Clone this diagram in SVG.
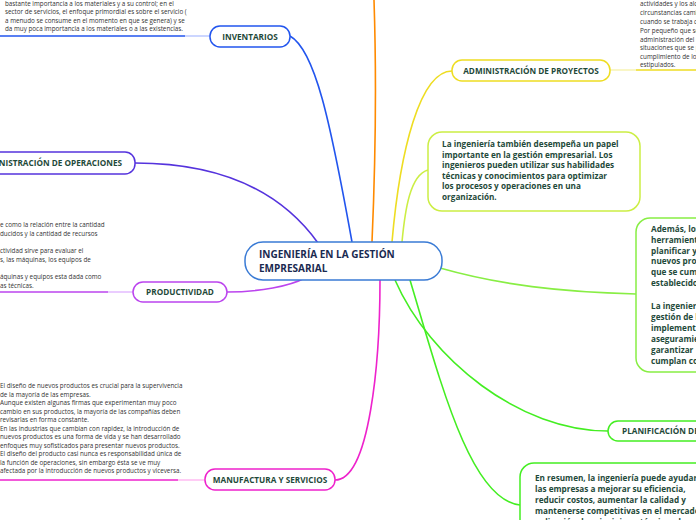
<svg xmlns="http://www.w3.org/2000/svg" width="696" height="520" viewBox="0 0 696 520">
<style>
text{font-family:"Open Sans","Noto Sans",sans-serif;}
.t{font-size:6.3px;fill:#333;}
.b{font-size:8.2px;font-weight:bold;fill:#1f4a3a;}
.h{font-size:8.2px;font-weight:bold;fill:#1f4a3a;text-anchor:middle;}
.c{fill:none;stroke-width:1.6;}
rect{fill:#fff;stroke-width:1.5;}
</style>
<rect width="696" height="520" fill="#fff" style="stroke:none"/>
<g id="connectors">
<path class="c" stroke="#ff8a00" d="M372 242 C376 150 376 60 374 0"/>
<path class="c" stroke="#2255ee" d="M290 36 C315 50 330 120 352 242"/>
<path class="c" stroke="#5533dd" d="M135 163 C220 163 280 190 318 243"/>
<path class="c" stroke="#bb44ee" d="M227 292 C260 292 290 286 305 278"/>
<path class="c" stroke="#ee22cc" d="M335 480 C370 480 380 360 380 280"/>
<path class="c" stroke="#eedd22" d="M452 71 C420 71 400 150 392 242"/>
<path class="c" stroke="#ccee44" d="M428 170 C410 175 405 210 402 242"/>
<path class="c" stroke="#88ee44" d="M440 268 C500 285 560 292 636 294"/>
<path class="c" stroke="#44ee22" d="M395 280 C430 360 520 431 608 431"/>
<path class="c" stroke="#44ee22" d="M410 280 C440 380 470 500 520 505"/>
<line x1="0" y1="36" x2="185" y2="36" stroke="#2255ee" stroke-width="1.6"/>
<line x1="185" y1="36" x2="210" y2="36" stroke="#aabbff" stroke-width="1.2"/>
<line x1="0" y1="292" x2="108" y2="292" stroke="#bb44ee" stroke-width="1.6"/>
<line x1="108" y1="292" x2="133" y2="292" stroke="#ddaaff" stroke-width="1.2"/>
<line x1="0" y1="480" x2="178" y2="480" stroke="#ee22cc" stroke-width="1.6"/>
<line x1="178" y1="480" x2="205" y2="480" stroke="#ffaaee" stroke-width="1.2"/>
<line x1="610" y1="70" x2="636" y2="70" stroke="#f5f0a0" stroke-width="1.2"/>
<line x1="636" y1="70" x2="696" y2="70" stroke="#eedd22" stroke-width="1.6"/>
</g>
<g id="center">
<rect x="245" y="242" width="197" height="38" rx="18" stroke="#3a7bd5"/>
<text x="259" y="258" style="font-size:10px;font-weight:bold;fill:#1a2a50">INGENIERÍA EN LA GESTIÓN</text>
<text x="259" y="272" style="font-size:10px;font-weight:bold;fill:#1a2a50">EMPRESARIAL</text>
</g>
<g id="inventarios">
<rect x="210" y="26" width="80" height="21" rx="10" stroke="#2255ee"/>
<text class="h" x="250" y="40">INVENTARIOS</text>
<text class="t" x="5" y="6">bastante importancia a los materiales y a su control; en el</text>
<text class="t" x="5" y="14">sector de servicios, el enfoque primordial es sobre el servicio (</text>
<text class="t" x="5" y="23">a menudo se consume en el momento en que se genera) y se</text>
<text class="t" x="5" y="31">da muy poca importancia a los materiales o a las existencias.</text>
</g>
<g id="operaciones">
<rect x="-20" y="152" width="155" height="22" rx="10" stroke="#5533dd"/>
<text class="b" x="122" y="166" text-anchor="end">ADMINISTRACIÓN DE OPERACIONES</text>
</g>
<g id="productividad">
<rect x="133" y="282" width="94" height="20" rx="10" stroke="#bb44ee"/>
<text class="h" x="180" y="295">PRODUCTIVIDAD</text>
<text class="t" x="0" y="227">e como la relación entre la cantidad</text>
<text class="t" x="0" y="236">ducidos y la cantidad de recursos</text>
<text class="t" x="0" y="253">ctividad sirve para evaluar el</text>
<text class="t" x="0" y="262">s, las máquinas, los equipos de</text>
<text class="t" x="0" y="279">áquinas y equipos esta dada como</text>
<text class="t" x="0" y="288">as técnicas.</text>
</g>
<g id="manufactura">
<rect x="205" y="469" width="130" height="21" rx="10" stroke="#ee22cc"/>
<text class="h" x="270" y="483">MANUFACTURA Y SERVICIOS</text>
<text class="t" x="0" y="388">El diseño de nuevos productos es crucial para la supervivencia</text>
<text class="t" x="0" y="397">de la mayoría de las empresas.</text>
<text class="t" x="0" y="405">Aunque existen algunas firmas que experimentan muy poco</text>
<text class="t" x="0" y="414">cambio en sus productos, la mayoría de las compañías deben</text>
<text class="t" x="0" y="422">revisarlas en forma constante.</text>
<text class="t" x="0" y="431">En las industrias que cambian con rapidez, la introducción de</text>
<text class="t" x="0" y="439">nuevos productos es una forma de vida y se han desarrollado</text>
<text class="t" x="0" y="448">enfoques muy sofisticados para presentar nuevos productos.</text>
<text class="t" x="0" y="456">El diseño del producto casi nunca es responsabilidad única de</text>
<text class="t" x="0" y="465">la función de operaciones, sin embargo ésta se ve muy</text>
<text class="t" x="0" y="473">afectada por la introducción de nuevos productos y viceversa.</text>
</g>
<g id="proyectos">
<rect x="452" y="60" width="158" height="21" rx="10" stroke="#eedd22"/>
<text class="h" x="531" y="74">ADMINISTRACIÓN DE PROYECTOS</text>
<text class="t" x="640" y="6">actividades y los alca</text>
<text class="t" x="640" y="15">circunstancias camb</text>
<text class="t" x="640" y="24">cuando se trabaja c</text>
<text class="t" x="640" y="33">Por pequeño que se</text>
<text class="t" x="640" y="42">administración del m</text>
<text class="t" x="640" y="50">situaciones que se p</text>
<text class="t" x="640" y="59">cumplimiento de los</text>
<text class="t" x="640" y="67">estipulados.</text>
</g>
<g id="papel">
<rect x="428" y="132" width="212" height="79" rx="14" stroke="#ccee44"/>
<text class="b" x="442" y="147">La ingeniería también desempeña un papel</text>
<text class="b" x="442" y="158">importante en la gestión empresarial. Los</text>
<text class="b" x="442" y="168">ingenieros pueden utilizar sus habilidades</text>
<text class="b" x="442" y="179">técnicas y conocimientos para optimizar</text>
<text class="b" x="442" y="189">los procesos y operaciones en una</text>
<text class="b" x="442" y="200">organización.</text>
</g>
<g id="ademas">
<rect x="636" y="218" width="100" height="154" rx="14" stroke="#88ee44"/>
<text class="b" x="651" y="232">Además, los</text>
<text class="b" x="651" y="243">herramient</text>
<text class="b" x="651" y="254">planificar y</text>
<text class="b" x="651" y="264">nuevos pro</text>
<text class="b" x="651" y="275">que se cum</text>
<text class="b" x="651" y="286">establecido</text>
<text class="b" x="651" y="309">La ingenier</text>
<text class="b" x="651" y="320">gestión de l</text>
<text class="b" x="651" y="331">implement.</text>
<text class="b" x="651" y="342">aseguramie</text>
<text class="b" x="651" y="353">garantizar</text>
<text class="b" x="651" y="364">cumplan co</text>
</g>
<g id="planificacion">
<rect x="608" y="421" width="110" height="20" rx="10" stroke="#44ee22"/>
<text class="b" x="622" y="434">PLANIFICACIÓN DE</text>
</g>
<g id="resumen">
<rect x="520" y="463" width="200" height="80" rx="14" stroke="#44ee22"/>
<text class="b" x="535" y="481">En resumen, la ingeniería puede ayudar a</text>
<text class="b" x="535" y="492">las empresas a mejorar su eficiencia,</text>
<text class="b" x="535" y="503">reducir costos, aumentar la calidad y</text>
<text class="b" x="535" y="514">mantenerse competitivas en el mercado</text>
<text class="b" x="535" y="525">aplicación de principios y técnicas de</text>
</g>
</svg>
